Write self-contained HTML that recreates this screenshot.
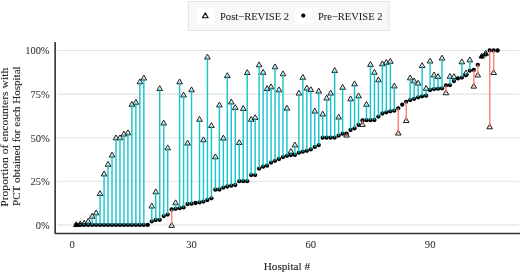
<!DOCTYPE html>
<html><head><meta charset="utf-8"><title>Hospital PCT</title>
<style>
html,body{margin:0;padding:0;background:#fff;}
body{width:520px;height:273px;overflow:hidden;}
svg{display:block;font-family:"Liberation Serif",serif;fill:#222;}
#tri path{fill:#f8f8f8;stroke:#111;stroke-width:0.95;stroke-linejoin:round;}
#dots circle{fill:#000;}
#segs line{stroke-width:1.45;stroke-opacity:0.9;}
.grid line{stroke:#dfe5e7;stroke-width:1.1;}
.axis path{stroke:#333;stroke-width:1.6;fill:none;stroke-linejoin:round;}
.tick{fill:#3c3c3c;stroke:#3c3c3c;stroke-width:0.1px;}
text{stroke:#222;stroke-width:0.1px;}
.leg{stroke-width:0.05px;}
</style></head><body>
<svg width="520" height="273" viewBox="0 0 520 273">
<rect x="0" y="0" width="520" height="273" fill="#fff"/>
<g class="grid">
<line x1="57.2" x2="519" y1="50.5" y2="50.5"/>
<line x1="57.2" x2="519" y1="94.1" y2="94.1"/>
<line x1="57.2" x2="519" y1="137.7" y2="137.7"/>
<line x1="57.2" x2="519" y1="181.3" y2="181.3"/>
<line x1="57.2" x2="519" y1="224.9" y2="224.9"/>
</g>
<g id="tri">
<path d="M76.25 221.66L79.06 226.54L73.43 226.54Z"/>
<path d="M80.22 220.96L83.04 225.84L77.41 225.84Z"/>
<path d="M84.20 220.26L87.01 225.14L81.38 225.14Z"/>
<path d="M88.17 218.36L90.99 223.24L85.36 223.24Z"/>
<path d="M92.15 213.36L94.96 218.24L89.33 218.24Z"/>
<path d="M96.12 209.96L98.94 214.84L93.31 214.84Z"/>
<path d="M100.10 190.66L102.91 195.54L97.28 195.54Z"/>
<path d="M104.07 171.06L106.89 175.94L101.26 175.94Z"/>
<path d="M108.05 161.41L110.86 166.29L105.24 166.29Z"/>
<path d="M112.03 152.16L114.84 157.04L109.21 157.04Z"/>
<path d="M116.00 134.91L118.82 139.79L113.19 139.79Z"/>
<path d="M119.98 134.91L122.79 139.79L117.16 139.79Z"/>
<path d="M123.95 131.16L126.77 136.04L121.14 136.04Z"/>
<path d="M127.93 129.91L130.74 134.79L125.11 134.79Z"/>
<path d="M131.90 101.41L134.72 106.29L129.09 106.29Z"/>
<path d="M135.88 99.41L138.69 104.29L133.07 104.29Z"/>
<path d="M139.86 78.91L142.67 83.79L137.04 83.79Z"/>
<path d="M143.83 75.16L146.65 80.04L141.02 80.04Z"/>
<path d="M151.78 203.16L154.60 208.04L148.97 208.04Z"/>
<path d="M155.76 188.91L158.57 193.79L152.94 193.79Z"/>
<path d="M159.73 85.66L162.55 90.54L156.92 90.54Z"/>
<path d="M163.71 120.16L166.52 125.04L160.89 125.04Z"/>
<path d="M167.68 144.91L170.50 149.79L164.87 149.79Z"/>
<path d="M171.66 222.46L174.47 227.34L168.85 227.34Z"/>
<path d="M175.64 199.86L178.45 204.74L172.82 204.74Z"/>
<path d="M179.61 78.91L182.43 83.79L176.80 83.79Z"/>
<path d="M183.59 92.16L186.40 97.04L180.77 97.04Z"/>
<path d="M187.56 140.16L190.38 145.04L184.75 145.04Z"/>
<path d="M191.54 86.86L194.35 91.74L188.72 91.74Z"/>
<path d="M199.49 116.41L202.30 121.29L196.67 121.29Z"/>
<path d="M203.46 136.91L206.28 141.79L200.65 141.79Z"/>
<path d="M207.44 54.16L210.25 59.04L204.63 59.04Z"/>
<path d="M211.42 122.66L214.23 127.54L208.60 127.54Z"/>
<path d="M215.39 153.91L218.21 158.79L212.58 158.79Z"/>
<path d="M219.37 102.06L222.18 106.94L216.55 106.94Z"/>
<path d="M223.34 135.16L226.16 140.04L220.53 140.04Z"/>
<path d="M227.32 72.66L230.13 77.54L224.50 77.54Z"/>
<path d="M231.29 99.06L234.11 103.94L228.48 103.94Z"/>
<path d="M235.27 104.56L238.08 109.44L232.46 109.44Z"/>
<path d="M239.25 139.66L242.06 144.54L236.43 144.54Z"/>
<path d="M243.22 105.56L246.04 110.44L240.41 110.44Z"/>
<path d="M247.20 69.66L250.01 74.54L244.38 74.54Z"/>
<path d="M251.17 116.41L253.99 121.29L248.36 121.29Z"/>
<path d="M255.15 114.66L257.96 119.54L252.33 119.54Z"/>
<path d="M259.12 61.91L261.94 66.79L256.31 66.79Z"/>
<path d="M263.10 69.41L265.91 74.29L260.28 74.29Z"/>
<path d="M267.07 85.66L269.89 90.54L264.26 90.54Z"/>
<path d="M271.05 83.91L273.86 88.79L268.24 88.79Z"/>
<path d="M275.03 63.91L277.84 68.79L272.21 68.79Z"/>
<path d="M279.00 86.91L281.82 91.79L276.19 91.79Z"/>
<path d="M282.98 70.91L285.79 75.79L280.16 75.79Z"/>
<path d="M286.95 105.26L289.77 110.14L284.14 110.14Z"/>
<path d="M290.93 148.46L293.74 153.34L288.11 153.34Z"/>
<path d="M294.90 142.06L297.72 146.94L292.09 146.94Z"/>
<path d="M298.88 90.16L301.69 95.04L296.06 95.04Z"/>
<path d="M302.85 74.41L305.67 79.29L300.04 79.29Z"/>
<path d="M306.83 85.16L309.64 90.04L304.02 90.04Z"/>
<path d="M310.81 86.66L313.62 91.54L307.99 91.54Z"/>
<path d="M314.78 108.16L317.60 113.04L311.97 113.04Z"/>
<path d="M318.76 88.16L321.57 93.04L315.94 93.04Z"/>
<path d="M322.73 111.16L325.55 116.04L319.92 116.04Z"/>
<path d="M326.71 95.16L329.52 100.04L323.89 100.04Z"/>
<path d="M330.68 90.16L333.50 95.04L327.87 95.04Z"/>
<path d="M334.66 67.56L337.47 72.44L331.85 72.44Z"/>
<path d="M338.64 114.16L341.45 119.04L335.82 119.04Z"/>
<path d="M342.61 84.41L345.43 89.29L339.80 89.29Z"/>
<path d="M346.59 132.16L349.40 137.04L343.77 137.04Z"/>
<path d="M350.56 95.91L353.38 100.79L347.75 100.79Z"/>
<path d="M354.54 80.96L357.35 85.84L351.72 85.84Z"/>
<path d="M358.51 92.96L361.33 97.84L355.70 97.84Z"/>
<path d="M362.49 121.56L365.30 126.44L359.67 126.44Z"/>
<path d="M366.46 101.41L369.28 106.29L363.65 106.29Z"/>
<path d="M370.44 61.56L373.25 66.44L367.63 66.44Z"/>
<path d="M374.42 69.41L377.23 74.29L371.60 74.29Z"/>
<path d="M378.39 76.91L381.21 81.79L375.58 81.79Z"/>
<path d="M382.37 60.91L385.18 65.79L379.55 65.79Z"/>
<path d="M386.34 59.41L389.16 64.29L383.53 64.29Z"/>
<path d="M390.32 58.41L393.13 63.29L387.50 63.29Z"/>
<path d="M394.29 83.06L397.11 87.94L391.48 87.94Z"/>
<path d="M398.27 130.16L401.08 135.04L395.45 135.04Z"/>
<path d="M406.22 117.66L409.03 122.54L403.41 122.54Z"/>
<path d="M410.20 74.96L413.01 79.84L407.38 79.84Z"/>
<path d="M414.17 78.06L416.99 82.94L411.36 82.94Z"/>
<path d="M418.15 80.26L420.96 85.14L415.33 85.14Z"/>
<path d="M422.12 62.66L424.94 67.54L419.31 67.54Z"/>
<path d="M426.10 85.46L428.91 90.34L423.28 90.34Z"/>
<path d="M430.07 58.16L432.89 63.04L427.26 63.04Z"/>
<path d="M434.05 72.06L436.86 76.94L431.24 76.94Z"/>
<path d="M438.03 73.66L440.84 78.54L435.21 78.54Z"/>
<path d="M442.00 55.16L444.82 60.04L439.19 60.04Z"/>
<path d="M445.98 89.86L448.79 94.74L443.16 94.74Z"/>
<path d="M449.95 73.41L452.77 78.29L447.14 78.29Z"/>
<path d="M453.93 73.66L456.74 78.54L451.11 78.54Z"/>
<path d="M461.88 58.91L464.69 63.79L459.06 63.79Z"/>
<path d="M465.85 70.06L468.67 74.94L463.04 74.94Z"/>
<path d="M469.83 56.96L472.64 61.84L467.02 61.84Z"/>
<path d="M473.81 83.26L476.62 88.14L470.99 88.14Z"/>
<path d="M477.78 72.06L480.60 76.94L474.97 76.94Z"/>
<path d="M481.76 53.16L484.57 58.04L478.94 58.04Z"/>
<path d="M485.73 50.36L488.55 55.24L482.92 55.24Z"/>
<path d="M489.71 123.91L492.52 128.79L486.89 128.79Z"/>
<path d="M493.68 69.66L496.50 74.54L490.87 74.54Z"/>
</g>
<g id="dots">
<circle cx="76.25" cy="224.90" r="2.15"/>
<circle cx="80.22" cy="224.90" r="2.15"/>
<circle cx="84.20" cy="224.90" r="2.15"/>
<circle cx="88.17" cy="224.90" r="2.15"/>
<circle cx="92.15" cy="224.90" r="2.15"/>
<circle cx="96.12" cy="224.90" r="2.15"/>
<circle cx="100.10" cy="224.90" r="2.15"/>
<circle cx="104.07" cy="224.90" r="2.15"/>
<circle cx="108.05" cy="224.90" r="2.15"/>
<circle cx="112.03" cy="224.90" r="2.15"/>
<circle cx="116.00" cy="224.90" r="2.15"/>
<circle cx="119.98" cy="224.90" r="2.15"/>
<circle cx="123.95" cy="224.90" r="2.15"/>
<circle cx="127.93" cy="224.90" r="2.15"/>
<circle cx="131.90" cy="224.90" r="2.15"/>
<circle cx="135.88" cy="224.90" r="2.15"/>
<circle cx="139.86" cy="224.90" r="2.15"/>
<circle cx="143.83" cy="224.90" r="2.15"/>
<circle cx="147.81" cy="224.90" r="2.15"/>
<circle cx="151.78" cy="221.35" r="2.15"/>
<circle cx="155.76" cy="220.00" r="2.15"/>
<circle cx="159.73" cy="219.85" r="2.15"/>
<circle cx="163.71" cy="216.10" r="2.15"/>
<circle cx="167.68" cy="214.60" r="2.15"/>
<circle cx="171.66" cy="209.50" r="2.15"/>
<circle cx="175.64" cy="208.85" r="2.15"/>
<circle cx="179.61" cy="208.20" r="2.15"/>
<circle cx="183.59" cy="207.40" r="2.15"/>
<circle cx="187.56" cy="204.00" r="2.15"/>
<circle cx="191.54" cy="203.70" r="2.15"/>
<circle cx="195.51" cy="203.00" r="2.15"/>
<circle cx="199.49" cy="202.40" r="2.15"/>
<circle cx="203.46" cy="201.60" r="2.15"/>
<circle cx="207.44" cy="200.00" r="2.15"/>
<circle cx="211.42" cy="198.30" r="2.15"/>
<circle cx="215.39" cy="189.70" r="2.15"/>
<circle cx="219.37" cy="189.50" r="2.15"/>
<circle cx="223.34" cy="187.60" r="2.15"/>
<circle cx="227.32" cy="186.50" r="2.15"/>
<circle cx="231.29" cy="185.70" r="2.15"/>
<circle cx="235.27" cy="185.00" r="2.15"/>
<circle cx="239.25" cy="181.20" r="2.15"/>
<circle cx="243.22" cy="181.20" r="2.15"/>
<circle cx="247.20" cy="181.20" r="2.15"/>
<circle cx="251.17" cy="175.10" r="2.15"/>
<circle cx="255.15" cy="175.10" r="2.15"/>
<circle cx="259.12" cy="168.60" r="2.15"/>
<circle cx="263.10" cy="166.70" r="2.15"/>
<circle cx="267.07" cy="165.70" r="2.15"/>
<circle cx="271.05" cy="162.60" r="2.15"/>
<circle cx="275.03" cy="160.80" r="2.15"/>
<circle cx="279.00" cy="159.00" r="2.15"/>
<circle cx="282.98" cy="157.10" r="2.15"/>
<circle cx="286.95" cy="155.80" r="2.15"/>
<circle cx="290.93" cy="155.00" r="2.15"/>
<circle cx="294.90" cy="154.90" r="2.15"/>
<circle cx="298.88" cy="152.70" r="2.15"/>
<circle cx="302.85" cy="151.70" r="2.15"/>
<circle cx="306.83" cy="150.80" r="2.15"/>
<circle cx="310.81" cy="149.40" r="2.15"/>
<circle cx="314.78" cy="146.90" r="2.15"/>
<circle cx="318.76" cy="145.10" r="2.15"/>
<circle cx="322.73" cy="137.70" r="2.15"/>
<circle cx="326.71" cy="137.70" r="2.15"/>
<circle cx="330.68" cy="137.70" r="2.15"/>
<circle cx="334.66" cy="137.60" r="2.15"/>
<circle cx="338.64" cy="135.60" r="2.15"/>
<circle cx="342.61" cy="133.70" r="2.15"/>
<circle cx="346.59" cy="133.60" r="2.15"/>
<circle cx="350.56" cy="129.90" r="2.15"/>
<circle cx="354.54" cy="128.35" r="2.15"/>
<circle cx="358.51" cy="124.80" r="2.15"/>
<circle cx="362.49" cy="120.50" r="2.15"/>
<circle cx="366.46" cy="120.20" r="2.15"/>
<circle cx="370.44" cy="120.20" r="2.15"/>
<circle cx="374.42" cy="120.00" r="2.15"/>
<circle cx="378.39" cy="116.60" r="2.15"/>
<circle cx="382.37" cy="113.50" r="2.15"/>
<circle cx="386.34" cy="112.30" r="2.15"/>
<circle cx="390.32" cy="111.35" r="2.15"/>
<circle cx="394.29" cy="110.70" r="2.15"/>
<circle cx="398.27" cy="108.30" r="2.15"/>
<circle cx="402.24" cy="104.70" r="2.15"/>
<circle cx="406.22" cy="101.80" r="2.15"/>
<circle cx="410.20" cy="100.10" r="2.15"/>
<circle cx="414.17" cy="98.80" r="2.15"/>
<circle cx="418.15" cy="97.30" r="2.15"/>
<circle cx="422.12" cy="96.35" r="2.15"/>
<circle cx="426.10" cy="95.70" r="2.15"/>
<circle cx="430.07" cy="90.00" r="2.15"/>
<circle cx="434.05" cy="89.10" r="2.15"/>
<circle cx="438.03" cy="88.70" r="2.15"/>
<circle cx="442.00" cy="88.40" r="2.15"/>
<circle cx="445.98" cy="85.40" r="2.15"/>
<circle cx="449.95" cy="85.10" r="2.15"/>
<circle cx="453.93" cy="81.00" r="2.15"/>
<circle cx="457.90" cy="78.40" r="2.15"/>
<circle cx="461.88" cy="77.60" r="2.15"/>
<circle cx="465.85" cy="75.30" r="2.15"/>
<circle cx="469.83" cy="70.60" r="2.15"/>
<circle cx="473.81" cy="69.90" r="2.15"/>
<circle cx="477.78" cy="64.80" r="2.15"/>
<circle cx="481.76" cy="56.60" r="2.15"/>
<circle cx="485.73" cy="54.50" r="2.15"/>
<circle cx="489.71" cy="50.50" r="2.15"/>
<circle cx="493.68" cy="50.50" r="2.15"/>
<circle cx="497.66" cy="50.50" r="2.15"/>
</g>
<g id="segs">
<line x1="80.22" x2="80.22" y1="224.90" y2="224.21" stroke="#00BFC4"/>
<line x1="84.20" x2="84.20" y1="224.90" y2="223.51" stroke="#00BFC4"/>
<line x1="88.17" x2="88.17" y1="224.90" y2="221.61" stroke="#00BFC4"/>
<line x1="92.15" x2="92.15" y1="224.90" y2="216.61" stroke="#00BFC4"/>
<line x1="96.12" x2="96.12" y1="224.90" y2="213.21" stroke="#00BFC4"/>
<line x1="100.10" x2="100.10" y1="224.90" y2="193.91" stroke="#00BFC4"/>
<line x1="104.07" x2="104.07" y1="224.90" y2="174.31" stroke="#00BFC4"/>
<line x1="108.05" x2="108.05" y1="224.90" y2="164.66" stroke="#00BFC4"/>
<line x1="112.03" x2="112.03" y1="224.90" y2="155.41" stroke="#00BFC4"/>
<line x1="116.00" x2="116.00" y1="224.90" y2="138.16" stroke="#00BFC4"/>
<line x1="119.98" x2="119.98" y1="224.90" y2="138.16" stroke="#00BFC4"/>
<line x1="123.95" x2="123.95" y1="224.90" y2="134.41" stroke="#00BFC4"/>
<line x1="127.93" x2="127.93" y1="224.90" y2="133.16" stroke="#00BFC4"/>
<line x1="131.90" x2="131.90" y1="224.90" y2="104.66" stroke="#00BFC4"/>
<line x1="135.88" x2="135.88" y1="224.90" y2="102.66" stroke="#00BFC4"/>
<line x1="139.86" x2="139.86" y1="224.90" y2="82.16" stroke="#00BFC4"/>
<line x1="143.83" x2="143.83" y1="224.90" y2="78.41" stroke="#00BFC4"/>
<line x1="151.78" x2="151.78" y1="221.35" y2="206.41" stroke="#00BFC4"/>
<line x1="155.76" x2="155.76" y1="220.00" y2="192.16" stroke="#00BFC4"/>
<line x1="159.73" x2="159.73" y1="219.85" y2="88.91" stroke="#00BFC4"/>
<line x1="163.71" x2="163.71" y1="216.10" y2="123.41" stroke="#00BFC4"/>
<line x1="167.68" x2="167.68" y1="214.60" y2="148.16" stroke="#00BFC4"/>
<line x1="171.66" x2="171.66" y1="209.50" y2="225.71" stroke="#F8766D"/>
<line x1="175.64" x2="175.64" y1="208.85" y2="203.11" stroke="#00BFC4"/>
<line x1="179.61" x2="179.61" y1="208.20" y2="82.16" stroke="#00BFC4"/>
<line x1="183.59" x2="183.59" y1="207.40" y2="95.41" stroke="#00BFC4"/>
<line x1="187.56" x2="187.56" y1="204.00" y2="143.41" stroke="#00BFC4"/>
<line x1="191.54" x2="191.54" y1="203.70" y2="90.11" stroke="#00BFC4"/>
<line x1="199.49" x2="199.49" y1="202.40" y2="119.66" stroke="#00BFC4"/>
<line x1="203.46" x2="203.46" y1="201.60" y2="140.16" stroke="#00BFC4"/>
<line x1="207.44" x2="207.44" y1="200.00" y2="57.41" stroke="#00BFC4"/>
<line x1="211.42" x2="211.42" y1="198.30" y2="125.91" stroke="#00BFC4"/>
<line x1="215.39" x2="215.39" y1="189.70" y2="157.16" stroke="#00BFC4"/>
<line x1="219.37" x2="219.37" y1="189.50" y2="105.31" stroke="#00BFC4"/>
<line x1="223.34" x2="223.34" y1="187.60" y2="138.41" stroke="#00BFC4"/>
<line x1="227.32" x2="227.32" y1="186.50" y2="75.91" stroke="#00BFC4"/>
<line x1="231.29" x2="231.29" y1="185.70" y2="102.31" stroke="#00BFC4"/>
<line x1="235.27" x2="235.27" y1="185.00" y2="107.81" stroke="#00BFC4"/>
<line x1="239.25" x2="239.25" y1="181.20" y2="142.91" stroke="#00BFC4"/>
<line x1="243.22" x2="243.22" y1="181.20" y2="108.81" stroke="#00BFC4"/>
<line x1="247.20" x2="247.20" y1="181.20" y2="72.91" stroke="#00BFC4"/>
<line x1="251.17" x2="251.17" y1="175.10" y2="119.66" stroke="#00BFC4"/>
<line x1="255.15" x2="255.15" y1="175.10" y2="117.91" stroke="#00BFC4"/>
<line x1="259.12" x2="259.12" y1="168.60" y2="65.16" stroke="#00BFC4"/>
<line x1="263.10" x2="263.10" y1="166.70" y2="72.66" stroke="#00BFC4"/>
<line x1="267.07" x2="267.07" y1="165.70" y2="88.91" stroke="#00BFC4"/>
<line x1="271.05" x2="271.05" y1="162.60" y2="87.16" stroke="#00BFC4"/>
<line x1="275.03" x2="275.03" y1="160.80" y2="67.16" stroke="#00BFC4"/>
<line x1="279.00" x2="279.00" y1="159.00" y2="90.16" stroke="#00BFC4"/>
<line x1="282.98" x2="282.98" y1="157.10" y2="74.16" stroke="#00BFC4"/>
<line x1="286.95" x2="286.95" y1="155.80" y2="108.51" stroke="#00BFC4"/>
<line x1="290.93" x2="290.93" y1="155.00" y2="151.71" stroke="#00BFC4"/>
<line x1="294.90" x2="294.90" y1="154.90" y2="145.31" stroke="#00BFC4"/>
<line x1="298.88" x2="298.88" y1="152.70" y2="93.41" stroke="#00BFC4"/>
<line x1="302.85" x2="302.85" y1="151.70" y2="77.66" stroke="#00BFC4"/>
<line x1="306.83" x2="306.83" y1="150.80" y2="88.41" stroke="#00BFC4"/>
<line x1="310.81" x2="310.81" y1="149.40" y2="89.91" stroke="#00BFC4"/>
<line x1="314.78" x2="314.78" y1="146.90" y2="111.41" stroke="#00BFC4"/>
<line x1="318.76" x2="318.76" y1="145.10" y2="91.41" stroke="#00BFC4"/>
<line x1="322.73" x2="322.73" y1="137.70" y2="114.41" stroke="#00BFC4"/>
<line x1="326.71" x2="326.71" y1="137.70" y2="98.41" stroke="#00BFC4"/>
<line x1="330.68" x2="330.68" y1="137.70" y2="93.41" stroke="#00BFC4"/>
<line x1="334.66" x2="334.66" y1="137.60" y2="70.81" stroke="#00BFC4"/>
<line x1="338.64" x2="338.64" y1="135.60" y2="117.41" stroke="#00BFC4"/>
<line x1="342.61" x2="342.61" y1="133.70" y2="87.66" stroke="#00BFC4"/>
<line x1="346.59" x2="346.59" y1="133.60" y2="135.41" stroke="#F8766D"/>
<line x1="350.56" x2="350.56" y1="129.90" y2="99.16" stroke="#00BFC4"/>
<line x1="354.54" x2="354.54" y1="128.35" y2="84.21" stroke="#00BFC4"/>
<line x1="358.51" x2="358.51" y1="124.80" y2="96.21" stroke="#00BFC4"/>
<line x1="362.49" x2="362.49" y1="120.50" y2="124.81" stroke="#F8766D"/>
<line x1="366.46" x2="366.46" y1="120.20" y2="104.66" stroke="#00BFC4"/>
<line x1="370.44" x2="370.44" y1="120.20" y2="64.81" stroke="#00BFC4"/>
<line x1="374.42" x2="374.42" y1="120.00" y2="72.66" stroke="#00BFC4"/>
<line x1="378.39" x2="378.39" y1="116.60" y2="80.16" stroke="#00BFC4"/>
<line x1="382.37" x2="382.37" y1="113.50" y2="64.16" stroke="#00BFC4"/>
<line x1="386.34" x2="386.34" y1="112.30" y2="62.66" stroke="#00BFC4"/>
<line x1="390.32" x2="390.32" y1="111.35" y2="61.66" stroke="#00BFC4"/>
<line x1="394.29" x2="394.29" y1="110.70" y2="86.31" stroke="#00BFC4"/>
<line x1="398.27" x2="398.27" y1="108.30" y2="133.41" stroke="#F8766D"/>
<line x1="406.22" x2="406.22" y1="101.80" y2="120.91" stroke="#F8766D"/>
<line x1="410.20" x2="410.20" y1="100.10" y2="78.21" stroke="#00BFC4"/>
<line x1="414.17" x2="414.17" y1="98.80" y2="81.31" stroke="#00BFC4"/>
<line x1="418.15" x2="418.15" y1="97.30" y2="83.51" stroke="#00BFC4"/>
<line x1="422.12" x2="422.12" y1="96.35" y2="65.91" stroke="#00BFC4"/>
<line x1="426.10" x2="426.10" y1="95.70" y2="88.71" stroke="#00BFC4"/>
<line x1="430.07" x2="430.07" y1="90.00" y2="61.41" stroke="#00BFC4"/>
<line x1="434.05" x2="434.05" y1="89.10" y2="75.31" stroke="#00BFC4"/>
<line x1="438.03" x2="438.03" y1="88.70" y2="76.91" stroke="#00BFC4"/>
<line x1="442.00" x2="442.00" y1="88.40" y2="58.41" stroke="#00BFC4"/>
<line x1="445.98" x2="445.98" y1="85.40" y2="93.11" stroke="#F8766D"/>
<line x1="449.95" x2="449.95" y1="85.10" y2="76.66" stroke="#00BFC4"/>
<line x1="453.93" x2="453.93" y1="81.00" y2="76.91" stroke="#00BFC4"/>
<line x1="461.88" x2="461.88" y1="77.60" y2="62.16" stroke="#00BFC4"/>
<line x1="465.85" x2="465.85" y1="75.30" y2="73.31" stroke="#00BFC4"/>
<line x1="469.83" x2="469.83" y1="70.60" y2="60.21" stroke="#00BFC4"/>
<line x1="473.81" x2="473.81" y1="69.90" y2="86.51" stroke="#F8766D"/>
<line x1="477.78" x2="477.78" y1="64.80" y2="75.31" stroke="#F8766D"/>
<line x1="485.73" x2="485.73" y1="54.50" y2="53.61" stroke="#00BFC4"/>
<line x1="489.71" x2="489.71" y1="50.50" y2="127.16" stroke="#F8766D"/>
<line x1="493.68" x2="493.68" y1="50.50" y2="72.91" stroke="#F8766D"/>
</g>
<g class="axis">
<path d="M55.15 42V233.5H520"/>
</g>
<g class="ticks">
<text class="tick" x="25.25" y="54.40" textLength="24.30" lengthAdjust="spacingAndGlyphs" font-size="10.2">100%</text>
<text class="tick" x="30.45" y="98.00" textLength="19.30" lengthAdjust="spacingAndGlyphs" font-size="10.2">75%</text>
<text class="tick" x="30.45" y="141.60" textLength="19.30" lengthAdjust="spacingAndGlyphs" font-size="10.2">50%</text>
<text class="tick" x="30.45" y="185.20" textLength="19.30" lengthAdjust="spacingAndGlyphs" font-size="10.2">25%</text>
<text class="tick" x="35.85" y="228.70" textLength="13.90" lengthAdjust="spacingAndGlyphs" font-size="10.2">0%</text>
<text class="tick" x="69.40" y="248.20" textLength="5.30" lengthAdjust="spacingAndGlyphs" font-size="10.2">0</text>
<text class="tick" x="186.20" y="248.20" textLength="10.60" lengthAdjust="spacingAndGlyphs" font-size="10.2">30</text>
<text class="tick" x="305.55" y="248.20" textLength="10.60" lengthAdjust="spacingAndGlyphs" font-size="10.2">60</text>
<text class="tick" x="424.85" y="248.20" textLength="10.60" lengthAdjust="spacingAndGlyphs" font-size="10.2">90</text>
</g>
<text class="ttl" x="263.70" y="269.65" textLength="46.40" lengthAdjust="spacingAndGlyphs" font-size="11.0">Hospital #</text>
<text class="ttl" transform="translate(8.40,206.80) rotate(-90)" textLength="139.00" lengthAdjust="spacingAndGlyphs" font-size="11.0">Proportion of encounters with</text>
<text class="ttl" transform="translate(19.50,205.90) rotate(-90)" textLength="139.50" lengthAdjust="spacingAndGlyphs" font-size="11.0">PCT obtained for each Hospital</text>
<g class="legend">
<rect x="188.4" y="1.5" width="200.5" height="29" fill="#f7f8f8" stroke="#e0e5e7" stroke-width="1"/>
<rect x="197" y="7.5" width="17" height="16.3" fill="#fff"/>
<rect x="295" y="7.5" width="17" height="16.3" fill="#fff"/>
<path d="M205.30 12.85L208.11 17.73L202.49 17.73Z" fill="#fff" stroke="#111" stroke-width="1.15" stroke-linejoin="round"/>
<circle cx="303.3" cy="15.6" r="2.15" fill="#000"/>
<text class="leg" x="220.00" y="19.95" textLength="69.00" lengthAdjust="spacingAndGlyphs" font-size="11.3">Post−REVISE 2</text>
<text class="leg" x="317.90" y="19.95" textLength="64.60" lengthAdjust="spacingAndGlyphs" font-size="11.3">Pre−REVISE 2</text>
</g>
</svg>
</body></html>
